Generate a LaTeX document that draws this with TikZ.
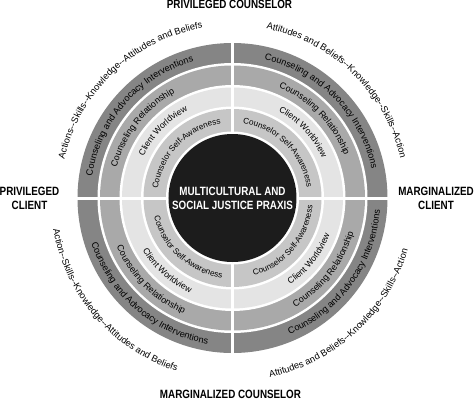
\documentclass[tikz,border=0pt]{standalone}
\usepackage{fontspec}
\setmainfont{Liberation Sans}
\newfontfamily\capsfont[FakeStretch=0.82]{Liberation Sans}
\usetikzlibrary{decorations.text}

\definecolor{ringone}{HTML}{858585}
\definecolor{ringtwo}{HTML}{A9A9A9}
\definecolor{ringthree}{HTML}{E4E4E4}
\definecolor{ringfour}{HTML}{C6C6C6}
\definecolor{praxisfill}{HTML}{1C1C1C}

% text along a clockwise arc (upper half) and a counterclockwise arc (lower half)
\newcommand{\uparc}[4]{%
  \path[decorate, decoration={text along path, text align=center,
      text={|\fontsize{#3}{#3}\selectfont|#4}}]
    ({#1+45}:#2pt) arc[start angle={#1+45}, end angle={#1-45}, radius=#2pt];}
\newcommand{\downarc}[4]{%
  \path[decorate, decoration={text along path, text align=center,
      text={|\fontsize{#3}{#3}\selectfont|#4}}]
    ({#1-45}:#2pt) arc[start angle={#1-45}, end angle={#1+45}, radius=#2pt];}

\begin{document}
\begin{tikzpicture}[x=1pt, y=1pt,
    title/.style={font=\capsfont\bfseries\fontsize{12}{14}\selectfont,
        align=center, inner sep=0pt},
    gap/.style={white, line width=3pt}
]
    \useasboundingbox (-232.5,-202) rectangle (241.5,198);
    % rings
    \fill[ringone] (0,0) circle[radius=155];
    \fill[white] (0,0) circle[radius=135];
    \fill[ringtwo] (0,0) circle[radius=132.5];
    \fill[white] (0,0) circle[radius=113];
    \fill[ringthree] (0,0) circle[radius=110.5];
    \fill[white] (0,0) circle[radius=91.5];
    \fill[ringfour] (0,0) circle[radius=89];
    \draw[gap] (-157,0) -- (157,0);
    \draw[gap] (0,-157) -- (0,157);
    \fill[white] (0,0) circle[radius=66.5];
    \fill[praxisfill] (0,0) circle[radius=64];

    % upper left
    \uparc{138.5}{142}{9.2}{Counseling and Advocacy Interventions}
    \uparc{142}{119.75}{9}{Counseling Relationship}
    \uparc{136}{98}{8.7}{Client Worldview}
    \uparc{136}{75}{8.2}{Counselor Self-Awareness}
    \uparc{133.5}{172.5}{9.3}{Actions--Skills--Knowledge--Attitudes and Beliefs}
    % upper right
    \uparc{44.4}{142}{9.2}{Counseling and Advocacy Interventions}
    \uparc{44}{119.75}{9}{Counseling Relationship}
    \uparc{43}{98}{8.7}{Client Worldview}
    \uparc{45}{75}{8.2}{Counselor Self-Awareness}
    \uparc{46}{172.5}{9.3}{Attitudes and Beliefs--Knowledge--Skills--Action}
    % lower left
    \downarc{229}{148}{9.2}{Counseling and Advocacy Interventions}
    \downarc{225}{125.75}{9}{Counseling Relationship}
    \downarc{228}{104}{8.7}{Client Worldview}
    \downarc{228}{80.5}{8.2}{Counselor Self-Awareness}
    \downarc{221}{182}{9.3}{Action--Skills--Knowledge--Attitudes and Beliefs}
    % lower right
    \downarc{324}{148}{9.2}{Counseling and Advocacy Interventions}
    \downarc{322}{125.75}{9}{Counseling Relationship}
    \downarc{321.5}{104}{8.7}{Client Worldview}
    \downarc{320}{80.5}{8.2}{Counselor Self-Awareness}
    \downarc{312.6}{183}{9.3}{Attitudes and Beliefs--Knowledge--Skills--Action}

    % labels
    \node[title, text=white] (praxis) at (0,0) {MULTICULTURAL AND\\SOCIAL JUSTICE PRAXIS};
    \node[title] (privcounselor) at (-3,193.5) {PRIVILEGED COUNSELOR};
    \node[title] (margcounselor) at (-2,-196) {MARGINALIZED COUNSELOR};
    \node[title] (privclient) at (-203,0) {PRIVILEGED\\CLIENT};
    \node[title] (margclient) at (203.5,0) {MARGINALIZED\\CLIENT};
\end{tikzpicture}
\end{document}
